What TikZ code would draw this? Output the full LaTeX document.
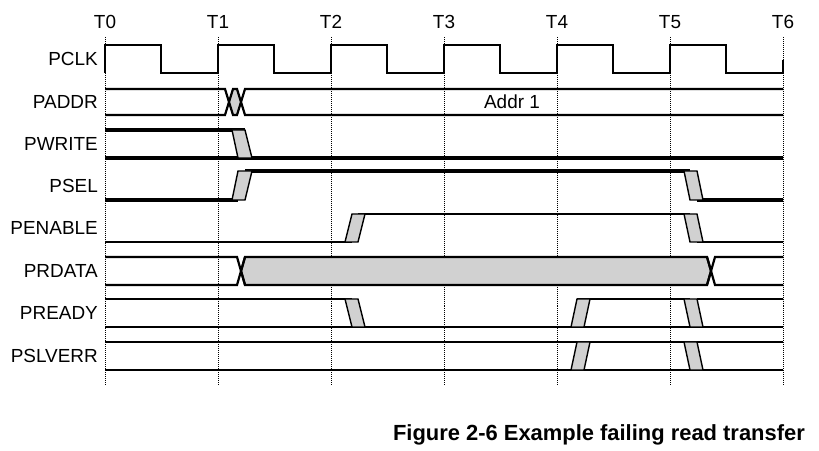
\documentclass[tikz,border=0pt]{standalone}
\usepackage{fontspec}
\setmainfont{Liberation Sans}
\begin{document}
\begin{tikzpicture}[x=1bp,y=-1bp,
  sig/.style={line width=2.2bp,line join=miter},
  thk/.style={line width=3.3bp},
  tr/.style={fill=black!18,draw=black,line width=1.4bp},
  grid/.style={densely dotted,line width=1bp},
  lab/.style={anchor=east,font=\fontsize{19}{22}\selectfont,inner sep=0},
  tl/.style={font=\fontsize{19}{22}\selectfont,inner sep=0}]
\useasboundingbox (0,0) rectangle (819,451);
% grid
\foreach \i/\x in {0/105,1/218,2/331,3/444,4/557,5/670,6/783}{
  \node[tl] (t\i) at (\x,22) {T\i};
  \draw[grid] (\x,37) -- (\x,385);
}
% labels
\foreach \n/\y in {PCLK/59,PADDR/102,PWRITE/144,PSEL/186,PENABLE/228,PRDATA/271,PREADY/313,PSLVERR/356}
  \node[lab] (l\n) at (98,\y) {\n};
% PCLK
\draw[sig] (105,73) -- (105,45) -- (161,45) -- (161,73) -- (218,73) -- (218,45) -- (274,45) -- (274,73)
 -- (331,73) -- (331,45) -- (387,45) -- (387,73) -- (444,73) -- (444,45) -- (500,45) -- (500,73)
 -- (557,73) -- (557,45) -- (613,45) -- (613,73) -- (670,73) -- (670,45) -- (726,45) -- (726,73) -- (783,73) -- (783,60);
% PADDR
\fill[black!18] (229,102) -- (233,89) -- (237,89) -- (241,102) -- (237,115) -- (233,115) -- cycle;
\draw[sig] (105,89) -- (225,89) -- (233,115) -- (237,115) -- (245,89) -- (783,89);
\draw[sig] (105,115) -- (225,115) -- (233,89) -- (237,89) -- (245,115) -- (783,115);
\node[tl] (addr) at (512,102) {Addr 1};
% PWRITE
\draw[thk] (105,130) -- (245,130);
\draw[thk] (105,158) -- (783,158);
\draw[tr] (232,130) -- (245,130) -- (252,158) -- (238,158) -- cycle;
% PSEL
\draw[thk] (105,200) -- (238,200);
\draw[thk] (245,171) -- (690,171);
\draw[thk] (697,200) -- (783,200);
\draw[tr] (232,200) -- (245,200) -- (252,171) -- (238,171) -- cycle;
\draw[tr] (684,171) -- (697,171) -- (703,200) -- (690,200) -- cycle;
% PENABLE
\draw[sig] (105,242) -- (352,242);
\draw[sig] (358,214) -- (690,214);
\draw[sig] (697,242) -- (783,242);
\draw[tr] (345,242) -- (358,242) -- (365,214) -- (352,214) -- cycle;
\draw[tr] (684,214) -- (697,214) -- (703,242) -- (690,242) -- cycle;
% PRDATA
\draw[sig,fill=black!18] (241,271) -- (245,257) -- (707,257) -- (711,271) -- (707,285) -- (245,285) -- cycle;
\draw[sig] (105,257) -- (237,257) -- (245,285);
\draw[sig] (105,285) -- (237,285) -- (245,257);
\draw[sig] (707,257) -- (715,285) -- (783,285);
\draw[sig] (707,285) -- (715,257) -- (783,257);
% PREADY
\draw[sig] (105,299) -- (352,299);
\draw[sig] (577,299) -- (690,299);
\draw[sig] (105,327) -- (783,327);
\draw[sig] (697,299) -- (783,299);
\draw[tr] (345,299) -- (358,299) -- (365,327) -- (352,327) -- cycle;
\draw[tr] (571,327) -- (584,327) -- (590,299) -- (577,299) -- cycle;
\draw[tr] (684,299) -- (697,299) -- (703,327) -- (690,327) -- cycle;
% PSLVERR
\draw[sig] (105,342) -- (783,342);
\draw[sig] (105,370) -- (783,370);
\draw[tr] (571,370) -- (584,370) -- (590,342) -- (577,342) -- cycle;
\draw[tr] (684,342) -- (697,342) -- (703,370) -- (690,370) -- cycle;
% caption
\node[anchor=east,inner sep=0,font=\bfseries\fontsize{22}{24}\selectfont] (cap) at (805,435) {Figure 2-6 Example failing read transfer};
\end{tikzpicture}
\end{document}
